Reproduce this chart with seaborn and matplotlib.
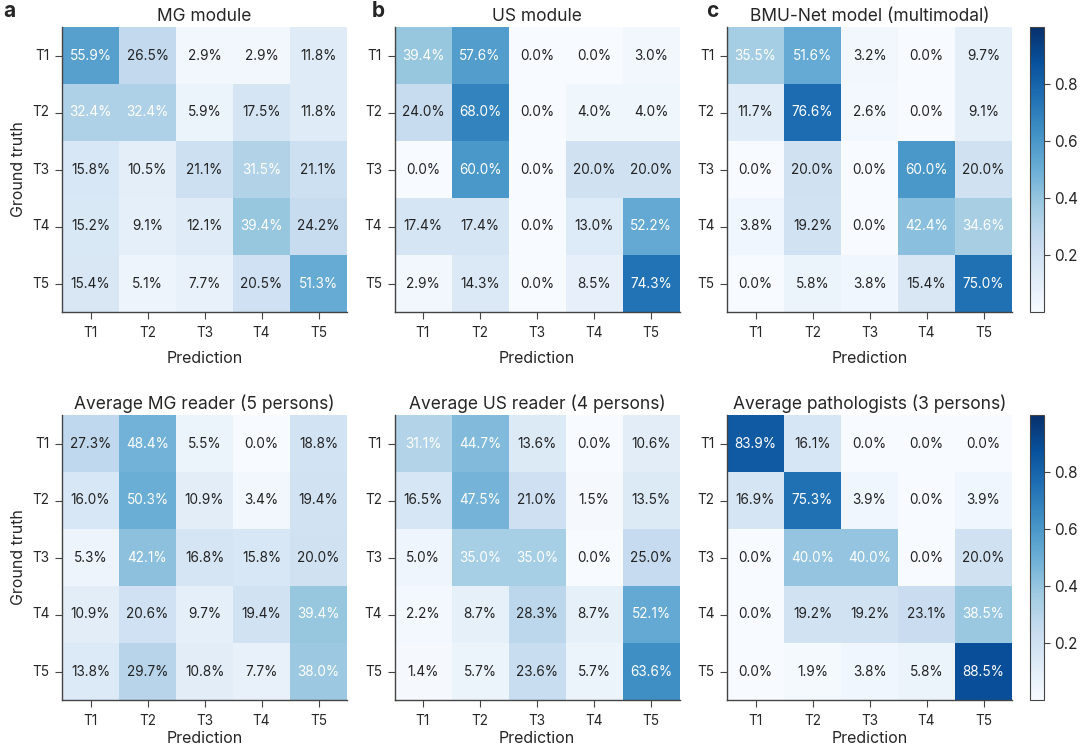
import numpy as np
import seaborn as sns
import matplotlib.pyplot as plt

classes = ['T1', 'T2', 'T3', 'T4', 'T5']

# confusion matrices in percent (rows = ground truth, cols = prediction)
mg_module = [[55.9, 26.5, 2.9, 2.9, 11.8],
             [32.4, 32.4, 5.9, 17.5, 11.8],
             [15.8, 10.5, 21.1, 31.5, 21.1],
             [15.2, 9.1, 12.1, 39.4, 24.2],
             [15.4, 5.1, 7.7, 20.5, 51.3]]
us_module = [[39.4, 57.6, 0.0, 0.0, 3.0],
             [24.0, 68.0, 0.0, 4.0, 4.0],
             [0.0, 60.0, 0.0, 20.0, 20.0],
             [17.4, 17.4, 0.0, 13.0, 52.2],
             [2.9, 14.3, 0.0, 8.5, 74.3]]
bmu_net = [[35.5, 51.6, 3.2, 0.0, 9.7],
           [11.7, 76.6, 2.6, 0.0, 9.1],
           [0.0, 20.0, 0.0, 60.0, 20.0],
           [3.8, 19.2, 0.0, 42.4, 34.6],
           [0.0, 5.8, 3.8, 15.4, 75.0]]
mg_reader = [[27.3, 48.4, 5.5, 0.0, 18.8],
             [16.0, 50.3, 10.9, 3.4, 19.4],
             [5.3, 42.1, 16.8, 15.8, 20.0],
             [10.9, 20.6, 9.7, 19.4, 39.4],
             [13.8, 29.7, 10.8, 7.7, 38.0]]
us_reader = [[31.1, 44.7, 13.6, 0.0, 10.6],
             [16.5, 47.5, 21.0, 1.5, 13.5],
             [5.0, 35.0, 35.0, 0.0, 25.0],
             [2.2, 8.7, 28.3, 8.7, 52.1],
             [1.4, 5.7, 23.6, 5.7, 63.6]]
pathologists = [[83.9, 16.1, 0.0, 0.0, 0.0],
                [16.9, 75.3, 3.9, 0.0, 3.9],
                [0.0, 40.0, 40.0, 0.0, 20.0],
                [0.0, 19.2, 19.2, 23.1, 38.5],
                [0.0, 1.9, 3.8, 5.8, 88.5]]

titles = ['MG module', 'US module', 'BMU-Net model (multimodal)',
          'Average MG reader (5 persons)', 'Average US reader (4 persons)',
          'Average pathologists (3 persons)']
matrices = [mg_module, us_module, bmu_net, mg_reader, us_reader, pathologists]
letters = ['a', 'b', 'c']

sns.set_style('white')
plt.rcParams['font.family'] = ['Inter', 'DejaVu Sans']

W, H = 1080, 747
fig = plt.figure(figsize=(W / 100, H / 100), dpi=100)

lefts = [62, 394.5, 727]
tops = [27, 415]
size = 285

for i, (mat, title) in enumerate(zip(matrices, titles)):
    row, col = divmod(i, 3)
    x0, y0 = lefts[col], tops[row]
    ax = fig.add_axes([x0 / W, (H - y0 - size) / H, size / W, size / H])
    vals = np.array(mat) / 100
    labels = [[f'{v:.1f}%' for v in r] for r in mat]
    cbar_ax = None
    if col == 2:
        cbar_ax = fig.add_axes([1030 / W, (H - y0 - size) / H, 14 / W, size / H])
    sns.heatmap(vals, ax=ax, cmap='Blues', vmin=0, vmax=1, annot=labels, fmt='',
                annot_kws={'fontsize': 9.8}, cbar=(col == 2), cbar_ax=cbar_ax,
                xticklabels=classes, yticklabels=classes, square=False)
    # text colour: white on darker cells
    for t, v in zip(ax.texts, vals.flatten()):
        t.set_color('white' if v > 0.30 else '#222222')
    for side in ['left', 'bottom']:
        ax.spines[side].set_visible(True)
        ax.spines[side].set_color('#444444')
        ax.spines[side].set_linewidth(1.0)
    ax.tick_params(axis='both', which='both', length=5, width=0.8, color='#444444',
                   labelsize=9.8, bottom=True, left=True, pad=4)
    ax.tick_params(axis='x', pad=5)
    ax.set_yticklabels(classes, rotation=0)
    ax.set_xticklabels(classes, rotation=0)
    ax.set_title(title, fontsize=12.5, pad=4)
    ax.set_xlabel('Prediction', fontsize=11.5, labelpad=(8 if row == 0 else 2))
    if col == 0:
        ax.set_ylabel('Ground truth', fontsize=11.5, labelpad=4)
    if col == 2:
        cb = ax.collections[0].colorbar
        cb.set_ticks([0.2, 0.4, 0.6, 0.8])
        cb.ax.tick_params(labelsize=11, length=4, width=0.8, color='#444444')
        cb.outline.set_visible(True)
        cb.outline.set_edgecolor('#444444')
        cb.outline.set_linewidth(0.8)

for x, letter in zip([3, 372, 706], letters):
    fig.text(x / W, 1 - 1 / H, letter, fontsize=15, fontweight='bold', va='top', ha='left')

fig.savefig('out.png', dpi=100)
